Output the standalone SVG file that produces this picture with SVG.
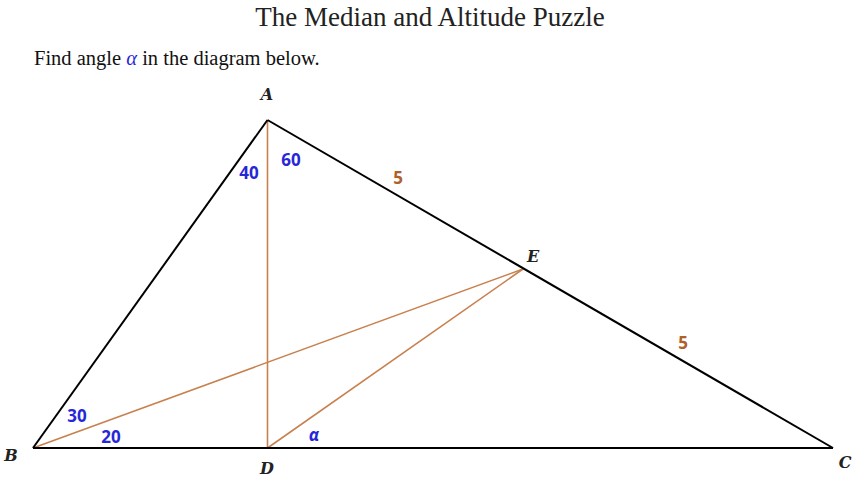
<svg xmlns="http://www.w3.org/2000/svg" width="856" height="478" viewBox="0 0 856 478">
<style>
.title{font-family:"Liberation Serif",serif;font-size:27px;fill:#222}
.sub{font-family:"Liberation Serif",serif;font-size:20.5px;fill:#111}
.pt{font-family:"DejaVu Serif","Liberation Serif",serif;font-size:16px;font-weight:bold;font-style:italic;fill:#222;text-anchor:middle}
.ang{font-family:"Open Sans","Liberation Sans",sans-serif;font-size:17px;font-weight:bold;fill:#2727d8;text-anchor:middle}
.len{font-family:"Open Sans","Liberation Sans",sans-serif;font-size:17px;font-weight:bold;fill:#b0602a;text-anchor:middle}
.blk{stroke:#000;stroke-width:2;fill:none}
.org{stroke:#c8804e;stroke-width:1.6;fill:none}
</style>
<rect width="856" height="478" fill="#fff"/>
<text class="title" x="430" y="26" text-anchor="middle">The Median and Altitude Puzzle</text>
<text class="sub" x="34" y="65">Find angle <tspan fill="#2727d8" font-style="italic">α</tspan> in the diagram below.</text>
<g id="connectors">
<line class="org" x1="267.5" y1="120" x2="267.5" y2="448"/>
<line class="org" x1="33" y1="448" x2="523" y2="269"/>
<line class="org" x1="267.5" y1="448" x2="523" y2="269"/>
<line class="blk" x1="33" y1="448" x2="267.5" y2="120"/>
<line class="blk" x1="267.5" y1="120" x2="833" y2="448"/>
<line class="blk" x1="33" y1="448" x2="833" y2="448"/>
</g>
<g id="A"><text class="pt" x="267" y="100">A</text></g>
<g id="B"><text class="pt" x="11" y="461">B</text></g>
<g id="C"><text class="pt" x="845" y="468">C</text></g>
<g id="D"><text class="pt" x="267" y="474">D</text></g>
<g id="E"><text class="pt" x="533" y="262">E</text></g>
<g id="labels">
<text class="ang" x="249" y="179">40</text>
<text class="ang" x="291" y="166">60</text>
<text class="len" x="398" y="184">5</text>
<text class="len" x="683" y="349">5</text>
<text class="ang" x="77" y="422">30</text>
<text class="ang" x="111" y="443">20</text>
<text class="ang" x="314" y="441" font-style="italic" font-family="Liberation Serif,serif" font-size="19">α</text>
</g>
</svg>
